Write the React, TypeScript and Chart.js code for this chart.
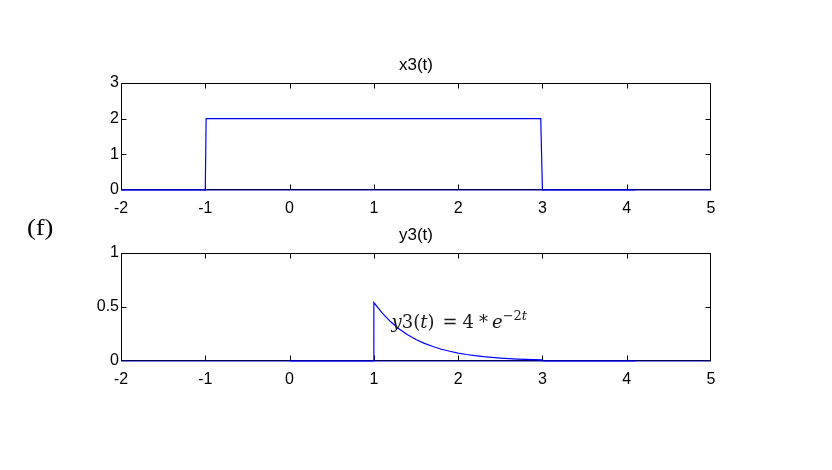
import { useEffect, useRef } from "react";
import { Chart, registerables } from "chart.js";
Chart.register(...registerables);

const xTicks = [-2, -1, 0, 1, 2, 3, 4, 5];

const topT = [-2, -1.0, -0.99, 2.98, 3.0, 4.1];
const topX = [0, 0, 2, 2, 0, 0];
const topYTicks = [0, 1, 2, 3];

const botT = [0, 0.99, 1.0, 1.1, 1.2, 1.3, 1.4, 1.5, 1.6, 1.7, 1.8, 1.9, 2.0, 2.1, 2.2, 2.3, 2.4, 2.5, 2.6, 2.7, 2.8, 2.9, 3.0, 3.01, 4.1];
const botY = [0, 0, 0.541, 0.443, 0.363, 0.297, 0.243, 0.199, 0.163, 0.134, 0.109, 0.09, 0.073, 0.06, 0.049, 0.04, 0.033, 0.027, 0.022, 0.018, 0.015, 0.012, 0.01, 0, 0];
const botYTicks = [0, 0.5, 1];

const axisT = [-2, 5];
const axisV = [0, 0];

const FONT = "'Liberation Sans', Arial, sans-serif";
const SERIF = "'DejaVu Serif', serif";

function boxPlugin(title: string, yTicks: number[], annotate: boolean) {
  return {
    id: "box_" + title.replace(/\W/g, ""),
    beforeDatasetsDraw(chart: any) {
      const { ctx, chartArea: a, scales } = chart;
      const L = Math.round(a.left) + 0.5, R = Math.round(a.right) - 0.5;
      const T = Math.round(a.top) + 0.5, B = Math.round(a.bottom) - 0.5;
      const cl = (v: number, lo: number, hi: number) => Math.min(hi, Math.max(lo, v));
      ctx.save();
      ctx.strokeStyle = "#000";
      ctx.lineWidth = 1;
      ctx.beginPath();
      ctx.rect(L, T, R - L, B - T);
      for (const v of xTicks) {
        const px = cl(Math.round(scales.x.getPixelForValue(v)) + 0.5, L, R);
        ctx.moveTo(px, B); ctx.lineTo(px, B - 5);
        ctx.moveTo(px, T); ctx.lineTo(px, T + 5);
      }
      for (const v of yTicks) {
        const py = cl(Math.round(scales.y.getPixelForValue(v)) + 0.5, T, B);
        ctx.moveTo(L, py); ctx.lineTo(L + 5, py);
        ctx.moveTo(R, py); ctx.lineTo(R - 5, py);
      }
      ctx.stroke();
      ctx.fillStyle = "#000";
      ctx.font = "17px " + FONT;
      ctx.textAlign = "center";
      ctx.textBaseline = "alphabetic";
      ctx.fillText(title, (a.left + a.right) / 2, a.top - 13);
      ctx.restore();
    },
    afterDatasetsDraw(chart: any) {
      if (!annotate) return;
      const { ctx, scales } = chart;
      let x = scales.x.getPixelForValue(1.21);
      const y = scales.y.getPixelForValue(0.305);
      ctx.save();
      ctx.fillStyle = "#1a1a1a";
      ctx.textBaseline = "alphabetic";
      ctx.textAlign = "left";
      const it = "italic 18px " + SERIF;
      const rg = "18px " + SERIF;
      const parts: [string, string, number][] = [
        ["y", it, 0], ["3", rg, 0], ["(", rg, 0], ["t", it, 0], [")", rg, 8], ["=", rg, 5],
        ["4", rg, 5], ["*", rg, 4], ["e", it, 0],
      ];
      for (const [s, f, g] of parts) {
        ctx.font = f;
        ctx.fillText(s, x, y);
        x += ctx.measureText(s).width + g;
      }
      ctx.font = "13px " + SERIF;
      ctx.fillText("−2", x, y - 8);
      x += ctx.measureText("−2").width;
      ctx.font = "italic 13px " + SERIF;
      ctx.fillText("t", x, y - 8);
      ctx.restore();
    },
  };
}

function makeChart(canvas: HTMLCanvasElement, t: number[], v: number[], yMax: number, yStep: number, yTicks: number[], title: string, annotate: boolean, padding: any) {
  return new Chart(canvas, {
    type: "line",
    data: {
      datasets: [
        {
          data: t.map((tt, i) => ({ x: tt, y: v[i] })),
          borderColor: "#0000ff",
          borderWidth: 1.2,
          pointRadius: 0,
          tension: 0,
          clip: 6,
        } as any,
        {
          data: axisT.map((tt, i) => ({ x: tt, y: axisV[i] })),
          borderColor: "#0000b4",
          borderWidth: 1,
          pointRadius: 0,
          clip: 6,
        } as any,
      ],
    },
    options: {
      animation: false,
      responsive: false,
      maintainAspectRatio: false,
      layout: { padding },
      plugins: { legend: { display: false }, tooltip: { enabled: false }, title: { display: false } },
      scales: {
        x: {
          type: "linear",
          min: -2,
          max: 5,
          grid: { display: false, drawTicks: false },
          border: { display: false },
          ticks: { stepSize: 1, color: "#000", font: { family: FONT, size: 16 }, padding: 9, maxRotation: 0, autoSkip: false },
          afterFit: (s: any) => { s.height = 34; },
        },
        y: {
          type: "linear",
          min: 0,
          max: yMax,
          grid: { display: false, drawTicks: false },
          border: { display: false },
          ticks: { stepSize: yStep, color: "#000", font: { family: FONT, size: 16 }, padding: 2, callback: (val: any) => String(Number(val)) },
          afterFit: (s: any) => { s.width = 40; },
        },
      },
    },
    plugins: [boxPlugin(title, yTicks, annotate)],
  } as any);
}

export default function App() {
  const c1 = useRef<HTMLCanvasElement>(null);
  const c2 = useRef<HTMLCanvasElement>(null);
  useEffect(() => {
    const ch1 = makeChart(c1.current!, topT, topX, 3, 1, topYTicks, "x3(t)", false, { left: 81, right: 121, top: 83, bottom: 6 });
    const ch2 = makeChart(c2.current!, botT, botY, 1, 0.5, botYTicks, "y3(t)", true, { left: 81, right: 121, top: 53, bottom: 75 });
    return () => { ch1.destroy(); ch2.destroy(); };
  }, []);
  return (
    <div style={{ position: "fixed", left: 0, top: 0, width: 832, height: 470, background: "#fff" }}>
      <canvas ref={c1} width={832} height={230} style={{ position: "absolute", left: 0, top: 0, width: 832, height: 230 }} />
      <canvas ref={c2} width={832} height={270} style={{ position: "absolute", left: 0, top: 200, width: 832, height: 270 }} />
      <div style={{ position: "absolute", left: 27, top: 216, fontFamily: "'Liberation Serif', serif", fontSize: 23, lineHeight: "23px", color: "#000", transform: "scaleX(1.15)", transformOrigin: "left top" }}>(f)</div>
    </div>
  );
}
